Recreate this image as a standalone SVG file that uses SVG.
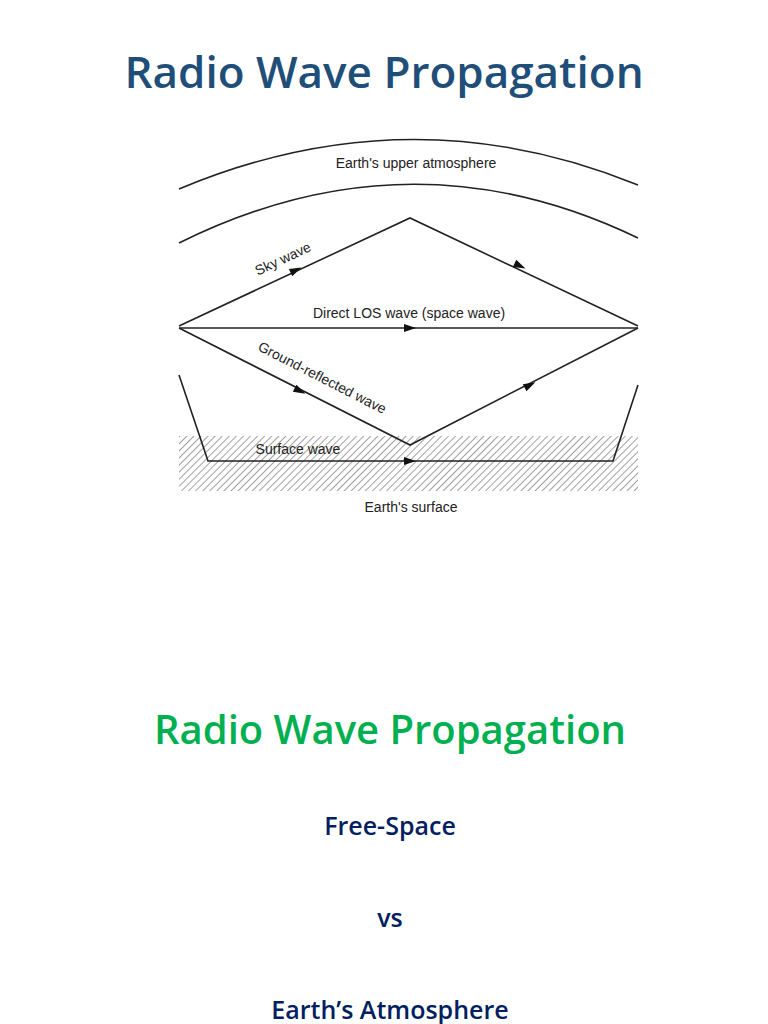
<svg xmlns="http://www.w3.org/2000/svg" width="768" height="1024" viewBox="0 0 768 1024">
<defs>
<pattern id="hatch" width="5" height="5" patternUnits="userSpaceOnUse" patternTransform="rotate(45)">
<rect width="5" height="5" fill="#fff"/><line x1="0" y1="0" x2="0" y2="5" stroke="#777" stroke-width="1.4"/>
</pattern>
<path id="ah" d="M-6,-4 L6,0 L-6,4 z" fill="#111"/>
</defs>
<style>
.t{font-family:"Open Sans","Liberation Sans",sans-serif;font-weight:600;text-anchor:middle}
.l{font-family:"Liberation Sans",Arial,sans-serif;font-size:14px;fill:#222;text-anchor:middle}
.w{fill:none;stroke:#222;stroke-width:1.6}
</style>
<rect width="768" height="1024" fill="#fff"/>
<text class="t" x="384" y="88" font-size="44" fill="#1F4E79">Radio Wave Propagation</text>
<g id="ground"><rect x="179" y="436" width="459" height="55" fill="url(#hatch)"/></g>
<g id="atmosphere">
<path class="w" d="M179,189 Q410,92 638,185"/>
<path class="w" d="M179,243 Q410,128 638,238"/>
</g>
<g id="connectors">
<path class="w" d="M179,326 L410,218 L638,326"/>
<path class="w" d="M179,328 L638,328"/>
<path class="w" d="M179,328 L410,445 L638,328"/>
<path class="w" d="M179,375 L208,461 L613,461 L638,385"/>
<use href="#ah" transform="translate(296,270) rotate(-25)"/>
<use href="#ah" transform="translate(520,266) rotate(25)"/>
<use href="#ah" transform="translate(410,328)"/>
<use href="#ah" transform="translate(300,391) rotate(27)"/>
<use href="#ah" transform="translate(530,385) rotate(-27)"/>
<use href="#ah" transform="translate(410,461)"/>
</g>
<g id="labels">
<text class="l" x="416" y="168">Earth's upper atmosphere</text>
<text class="l" transform="translate(285,263) rotate(-25)">Sky wave</text>
<text class="l" x="409" y="318">Direct LOS wave (space wave)</text>
<text class="l" transform="translate(320,382) rotate(27)">Ground-reflected wave</text>
<text class="l" x="298" y="454">Surface wave</text>
<text class="l" x="411" y="512">Earth's surface</text>
</g>
<text class="t" x="390" y="744" font-size="40" fill="#00B050">Radio Wave Propagation</text>
<text class="t" x="390" y="835" font-size="25" fill="#002060" font-weight="700">Free-Space</text>
<text class="t" x="390" y="927" font-size="25" fill="#002060" font-weight="700">vs</text>
<text class="t" x="390" y="1019" font-size="25" fill="#002060" font-weight="700">Earth’s Atmosphere</text>
</svg>
